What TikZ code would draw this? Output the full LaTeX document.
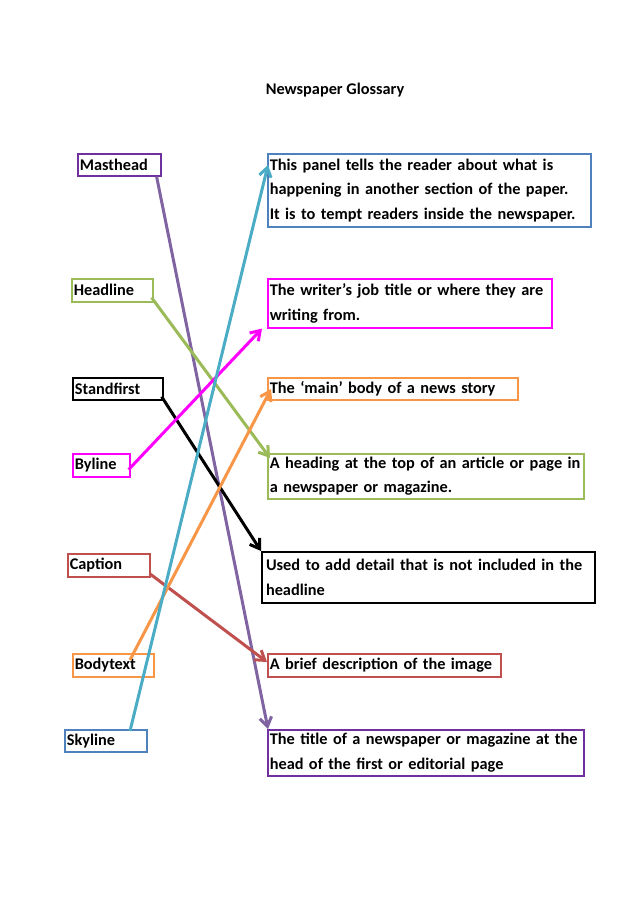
\documentclass[tikz,border=0pt]{standalone}
\usepackage{fontspec}
\setmainfont{Carlito}
\usetikzlibrary{arrows.meta}
\definecolor{cpur}{HTML}{7030A0}\definecolor{lpur}{HTML}{8064A2}
\definecolor{cgrn}{HTML}{9BBB59}\definecolor{cmag}{HTML}{FF00FF}
\definecolor{cred}{HTML}{C0504D}\definecolor{corg}{HTML}{F79646}
\definecolor{cblu}{HTML}{4F81BD}\definecolor{lblu}{HTML}{4BACC6}
\begin{document}
\begin{tikzpicture}[x=1pt,y=-1pt,font=\bfseries\fontsize{16.3}{24.5}\selectfont,
  lbox/.style={draw=#1,line width=1.6pt,anchor=north west,inner xsep=2pt,inner ysep=0pt,align=left},
  conn/.style={draw=#1,line width=3pt,-{Straight Barb[length=9pt,width=12pt]}}]
\useasboundingbox (0,0) rectangle (638,902);
\node at (335,90) {Newspaper Glossary};
% left boxes
\node[lbox=cpur,text width=79,minimum height=22] (mast) at (77,153) {Masthead};
\node[lbox=cgrn,text width=77,minimum height=23] (head) at (71,278) {Headline};
\node[lbox=black,text width=86,minimum height=22] (stand) at (72,377) {Standfirst};
\node[lbox=cmag,text width=53,minimum height=23] (byl) at (72,453) {Byline};
\node[lbox=cred,text width=78,minimum height=23] (cap) at (67,553) {Caption};
\node[lbox=corg,text width=77,minimum height=23] (body) at (72,653) {Bodytext};
\node[lbox=cblu,text width=78,minimum height=22] (sky) at (64,729) {Skyline};
% right boxes
\node[lbox=cblu,text width=319,minimum height=73] (panel) at (267,153) {This panel tells the reader about what is\\happening in another section of the paper.\\It is to tempt readers inside the newspaper.};
\node[lbox=cmag,text width=280,minimum height=49] (writer) at (267,278) {The writer’s job title or where they are\\writing from.};
\node[lbox=corg,text width=246,minimum height=22] (mainb) at (267,377) {The ‘main’ body of a news story};
\node[lbox=cgrn,text width=312,minimum height=45] (heading) at (267,453) {A heading at the top of an article or page in\\a newspaper or magazine.};
\node[lbox=black,text width=325,minimum height=51,line width=2pt,inner xsep=4pt] (used) at (261,551) {Used to add detail that is not included in the\\headline};
\node[lbox=cred,text width=229,minimum height=23] (brief) at (267,653) {A brief description of the image};
\node[lbox=cpur,text width=312,minimum height=46] (title) at (267,729) {The title of a newspaper or magazine at the\\head of the first or editorial page};
% connectors
\draw[conn=lpur] ([xshift=-5]mast.south east) -- ([xshift=1]title.north west);
\draw[conn=cgrn] ([xshift=-2,yshift=5]head.south east) -- ([xshift=3,yshift=-5]heading.north west);
\draw[conn=black] ([xshift=-2,yshift=4]stand.south east) -- (used.north west);
\draw[conn=cmag] ([xshift=-2,yshift=8]byl.south east) -- ([xshift=-5]writer.south west);
\draw[conn=cred] ([xshift=-1,yshift=4]cap.south east) -- ([yshift=-9]brief.north west);
\draw[conn=corg] ([xshift=58,yshift=-7]body.north west) -- ([xshift=4,yshift=-12]mainb.north west);
\draw[conn=lblu] ([xshift=66,yshift=-2]sky.north west) -- ([xshift=1,yshift=-12]panel.north west);
\end{tikzpicture}
\end{document}
